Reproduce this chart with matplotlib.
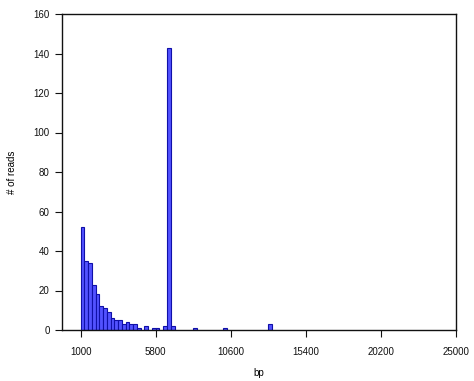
import matplotlib
matplotlib.use("Agg")
import matplotlib.pyplot as plt
import numpy as np

plt.rcParams['font.family'] = ['Liberation Sans', 'DejaVu Sans']

# Histogram bins (left edge in bp, width 240 bp) and read counts
bin_width = 240
bin_lefts = [1000, 1240, 1480, 1720, 1960, 2200, 2440, 2680, 2920, 3160,
             3400, 3640, 3880, 4120, 4360, 4600, 5080, 5560, 5800, 6280,
             6520, 6760, 8200, 10120, 13000]
counts = [52, 35, 34, 23, 18, 12, 11, 9, 6, 5,
          5, 3, 4, 3, 3, 1, 2, 1, 1, 2,
          143, 2, 1, 1, 3]

x_ticks = [1000, 5800, 10600, 15400, 20200, 25000]
y_ticks = [0, 20, 40, 60, 80, 100, 120, 140, 160]

fig = plt.figure(figsize=(4.74, 3.81), dpi=100)
ax = fig.add_axes([62/474, 51/381, (456-62)/474, (330-14)/381])

ax.bar(bin_lefts, counts, width=bin_width, align='edge',
       facecolor='#5252ff', edgecolor='#1010a8', linewidth=0.8)

ax.set_xlim(-194, 25000)
ax.set_ylim(0, 160)
ax.set_xticks(x_ticks)
ax.set_xticklabels([str(t) for t in x_ticks])
ax.set_yticks(y_ticks)

for s in ax.spines.values():
    s.set_linewidth(1.0)
    s.set_color('#111111')

ax.tick_params(axis='both', direction='out', length=5, width=0.8,
               labelsize=7, colors='#111111')
ax.tick_params(axis='x', pad=7)
ax.tick_params(axis='y', pad=4)

ax.set_xlabel('bp', fontsize=7, labelpad=8)
ax.set_ylabel('# of reads', fontsize=7, labelpad=12)

fig.savefig('out.png', dpi=100)
